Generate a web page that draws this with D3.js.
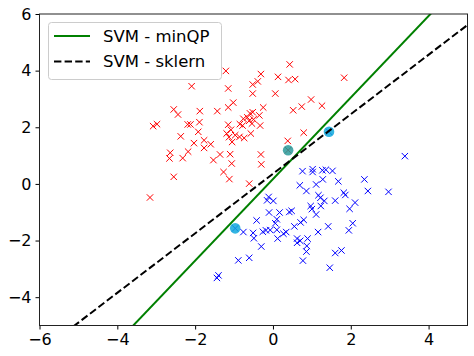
<!DOCTYPE html>
<html><head><meta charset="utf-8">
<script src="https://cdn.jsdelivr.net/npm/d3@7"></script>
<style>body{margin:0;background:#fff;overflow:hidden} text{font-family:"DejaVu Sans",sans-serif}</style>
</head><body><svg id="c" width="474" height="356"></svg>
<script>
// Class +1 (red)
const redX = [-1.21,-2.09,-1.15,-1.02,-2.55,-2.44,-1.88,-1.43,-1.15,-3.08,-2.98,-2.19,-2.12,-1.89,-1.15,-1.08,-2.37,-1.92,-1.77,-2.03,-1.60,-1.77,-1.19,-1.13,-1.05,-0.97,-2.64,-2.66,-2.32,-2.18,-1.36,-1.10,-1.53,-1.06,-2.55,-1.27,-1.12,-3.16,0.43,-0.31,0.13,0.40,0.57,-0.39,-0.52,1.83,-0.52,0.06,0.98,0.74,0.52,1.26,-0.25,-0.59,-0.52,-0.35,-0.66,-0.76,-0.85,-0.78,-0.54,-0.50,-0.33,-0.61,-0.86,-0.74,-0.57,0.79,0.38,-0.31,-0.30,-0.61,0.39];
const redY = [3.99,3.45,3.37,2.87,2.63,2.45,2.57,2.57,2.70,2.04,2.11,2.10,2.10,2.18,2.09,1.91,1.68,1.84,1.54,1.44,1.40,1.27,1.78,1.65,1.48,1.72,1.10,0.90,0.91,1.14,1.04,1.05,0.84,0.72,0.25,0.42,0.17,-0.48,4.22,3.88,3.78,3.67,3.70,3.62,3.51,3.75,3.19,3.19,2.98,2.73,2.60,2.76,2.70,2.49,2.53,2.42,2.35,2.30,2.11,2.06,2.13,2.28,2.06,2.23,1.66,1.62,1.78,1.81,1.52,1.04,0.69,0.01,1.19];
// Class -1 (blue)
const blueX = [3.39,0.76,1.02,1.02,1.27,1.36,1.53,1.28,1.68,2.35,0.69,0.86,1.11,2.44,2.97,1.82,1.86,1.17,1.22,1.32,1.60,2.11,1.23,0.97,1.00,1.97,1.11,-0.11,-0.15,0.01,-0.10,0.17,0.42,0.48,0.79,0.71,0.55,2.05,1.42,-0.42,0.10,0.06,-0.76,-0.51,-0.49,-0.26,-0.18,-0.07,0.10,0.27,0.34,0.12,1.16,1.95,-0.30,0.62,0.70,0.62,0.89,0.87,0.86,0.77,1.60,1.76,1.46,-0.89,-0.61,-1.40,-1.44,-0.97,1.44];
const blueY = [0.98,0.45,0.52,0.42,0.48,0.50,0.46,0.16,0.09,0.16,-0.05,-0.25,-0.02,-0.25,-0.28,-0.31,-0.39,-0.40,-0.49,-0.60,-0.59,-0.66,-0.78,-0.78,-0.89,-0.88,-1.08,-0.46,-0.58,-0.60,-1.01,-1.01,-0.99,-0.95,-1.27,-1.36,-1.50,-1.39,-1.50,-1.29,-1.25,-1.39,-1.70,-1.73,-1.92,-1.69,-1.64,-1.63,-1.62,-1.76,-1.70,-1.93,-1.70,-1.64,-2.21,-1.93,-2.01,-2.08,-1.93,-2.19,-2.39,-2.71,-2.44,-2.35,-2.96,-2.70,-2.61,-3.23,-3.32,-1.57,1.84];
// Support vectors
const svX = [-0.97, 0.39, 1.44];
const svY = [-1.57, 1.19, 1.84];
const svClass = [-1, 1, -1];
// Decision boundaries y = slope*x + intercept
const lineNames = ["SVM - minQP", "SVM - sklern"];
const lineSlope = [1.44, 1.051];
const lineIntercept = [0.17, 0.358];
const xTicks = [-6,-4,-2,0,2,4];
const yTicks = [-4,-2,0,2,4,6];

const svg = d3.select("#c");
const L=39.5, R=467.5, T=14, B=325.5;
const x = d3.scaleLinear().domain([-6,5]).range([L,R]);
const y = d3.scaleLinear().domain([-5,6]).range([B,T]);

svg.append("defs").append("clipPath").attr("id","clip")
  .append("rect").attr("x",L).attr("y",T).attr("width",R-L).attr("height",B-T);

const plot = svg.append("g").attr("clip-path","url(#clip)");
const xMark = "M-3.2,-3.2L3.2,3.2M-3.2,3.2L3.2,-3.2";

plot.selectAll(".r").data(d3.range(redX.length)).join("path")
  .attr("d",xMark).attr("transform",i=>`translate(${x(redX[i])},${y(redY[i])})`)
  .attr("stroke","#ff0000").attr("stroke-width",1).attr("fill","none");
plot.selectAll(".b").data(d3.range(blueX.length)).join("path")
  .attr("d",xMark).attr("transform",i=>`translate(${x(blueX[i])},${y(blueY[i])})`)
  .attr("stroke","#0000ff").attr("stroke-width",1).attr("fill","none");

plot.selectAll(".sv").data(d3.range(svX.length)).join("circle")
  .attr("cx",i=>x(svX[i])).attr("cy",i=>y(svY[i])).attr("r",5.3)
  .attr("fill",i=>svClass[i]>0 ? "#2a9a9a" : "#10a8dc").attr("opacity",0.85);

const lineStyles = [{c:"#008000",d:null},{c:"#000000",d:"7.4,3.2"}];
lineNames.forEach((n,k)=>{
  const xs = x.domain();
  plot.append("path")
    .attr("d", d3.line()(xs.map(v=>[x(v), y(lineSlope[k]*v+lineIntercept[k])])))
    .attr("stroke",lineStyles[k].c).attr("stroke-width",2).attr("fill","none")
    .attr("stroke-dasharray",lineStyles[k].d);
});

// axes
const xa = svg.append("g").attr("transform",`translate(0,${B})`)
  .call(d3.axisBottom(x).tickValues(xTicks).tickSize(4).tickPadding(4).tickFormat(d3.format("d")));
const ya = svg.append("g").attr("transform",`translate(${L},0)`)
  .call(d3.axisLeft(y).tickValues(yTicks).tickSize(4).tickPadding(4).tickFormat(d3.format("d")));
[xa,ya].forEach(a=>{
  a.select(".domain").remove();
  a.selectAll("text").attr("font-size",16).attr("fill","#000").attr("font-family","DejaVu Sans");
  a.selectAll("line").attr("stroke","#000").attr("stroke-width",1);
});
svg.append("rect").attr("x",L).attr("y",T).attr("width",R-L).attr("height",B-T)
  .attr("fill","none").attr("stroke","#222").attr("stroke-width",1);

// legend
const lg = svg.append("g");
lg.append("rect").attr("x",48.5).attr("y",22.5).attr("width",173).attr("height",57).attr("rx",3)
  .attr("fill","#fff").attr("fill-opacity",0.8).attr("stroke","#ccc").attr("stroke-width",1);
lineNames.forEach((n,k)=>{
  const yy = 36 + k*25.5;
  lg.append("line").attr("x1",54).attr("x2",90).attr("y1",yy).attr("y2",yy)
    .attr("stroke",lineStyles[k].c).attr("stroke-width",2).attr("stroke-dasharray",lineStyles[k].d);
  lg.append("text").attr("x",103).attr("y",yy).attr("dy","0.35em").attr("font-size",16.5).text(n);
});
</script></body></html>
